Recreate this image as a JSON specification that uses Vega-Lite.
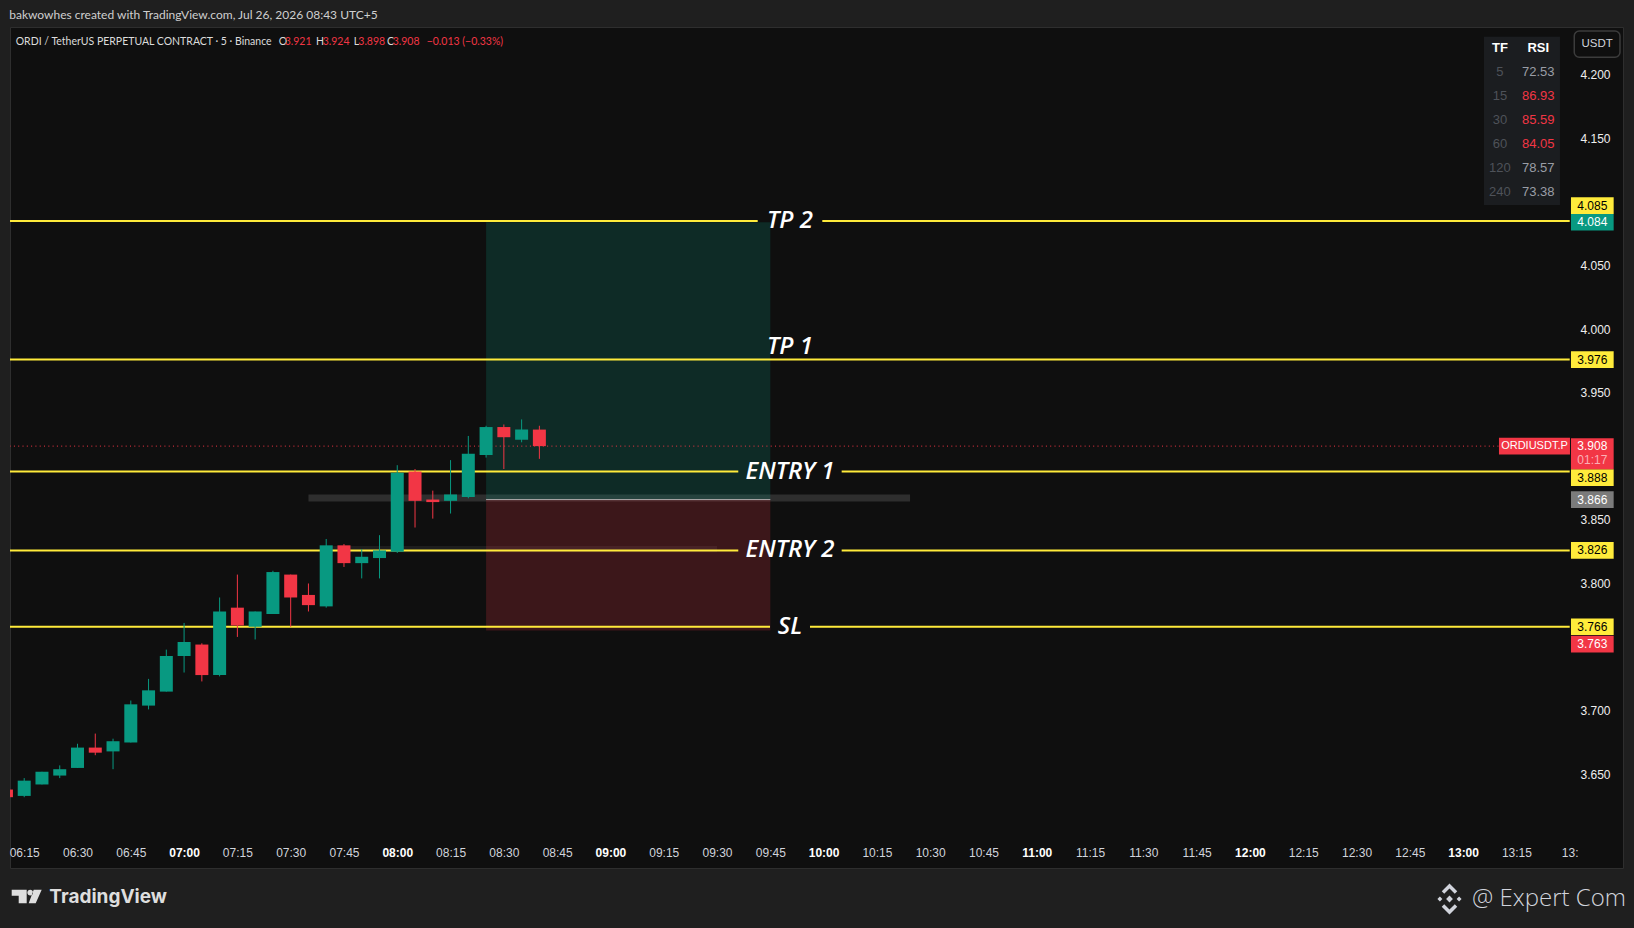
{
  "$schema": "https://vega.github.io/schema/vega-lite/v6.json",
  "width": 1613,
  "height": 841,
  "autosize": "none",
  "padding": {"left": 10, "top": 27, "right": 11, "bottom": 60},
  "background": "#1f1f1f",
  "config": {
    "font": "Liberation Sans",
    "view": {"fill": "#0f0f0f", "stroke": "#2e2e2e", "strokeWidth": 1}
  },
  "title": {
    "text": "bakwowhes created with TradingView.com, Jul 26, 2026 08:43 UTC+5",
    "anchor": "start",
    "offset": -4,
    "baseline": "alphabetic",
    "font": "Lato",
    "fontSize": 12,
    "fontWeight": "normal",
    "color": "#cfcfcf"
  },
  "datasets": {
    "candles": [
      {"t": "2026-07-26T06:10:00Z", "o": 3.638, "h": 3.639, "l": 3.630, "c": 3.632},
      {"t": "2026-07-26T06:15:00Z", "o": 3.633, "h": 3.647, "l": 3.632, "c": 3.645},
      {"t": "2026-07-26T06:20:00Z", "o": 3.642, "h": 3.652, "l": 3.642, "c": 3.652},
      {"t": "2026-07-26T06:25:00Z", "o": 3.649, "h": 3.657, "l": 3.647, "c": 3.654},
      {"t": "2026-07-26T06:30:00Z", "o": 3.655, "h": 3.674, "l": 3.655, "c": 3.671},
      {"t": "2026-07-26T06:35:00Z", "o": 3.671, "h": 3.682, "l": 3.665, "c": 3.667},
      {"t": "2026-07-26T06:40:00Z", "o": 3.668, "h": 3.678, "l": 3.654, "c": 3.676},
      {"t": "2026-07-26T06:45:00Z", "o": 3.675, "h": 3.708, "l": 3.675, "c": 3.705},
      {"t": "2026-07-26T06:50:00Z", "o": 3.704, "h": 3.725, "l": 3.701, "c": 3.716},
      {"t": "2026-07-26T06:55:00Z", "o": 3.715, "h": 3.748, "l": 3.715, "c": 3.743},
      {"t": "2026-07-26T07:00:00Z", "o": 3.743, "h": 3.769, "l": 3.730, "c": 3.754},
      {"t": "2026-07-26T07:05:00Z", "o": 3.752, "h": 3.753, "l": 3.723, "c": 3.728},
      {"t": "2026-07-26T07:10:00Z", "o": 3.728, "h": 3.789, "l": 3.727, "c": 3.778},
      {"t": "2026-07-26T07:15:00Z", "o": 3.781, "h": 3.807, "l": 3.758, "c": 3.767},
      {"t": "2026-07-26T07:20:00Z", "o": 3.766, "h": 3.778, "l": 3.756, "c": 3.778},
      {"t": "2026-07-26T07:25:00Z", "o": 3.776, "h": 3.810, "l": 3.776, "c": 3.809},
      {"t": "2026-07-26T07:30:00Z", "o": 3.807, "h": 3.807, "l": 3.766, "c": 3.789},
      {"t": "2026-07-26T07:35:00Z", "o": 3.791, "h": 3.800, "l": 3.778, "c": 3.783},
      {"t": "2026-07-26T07:40:00Z", "o": 3.782, "h": 3.835, "l": 3.781, "c": 3.830},
      {"t": "2026-07-26T07:45:00Z", "o": 3.830, "h": 3.831, "l": 3.813, "c": 3.816},
      {"t": "2026-07-26T07:50:00Z", "o": 3.816, "h": 3.827, "l": 3.804, "c": 3.821},
      {"t": "2026-07-26T07:55:00Z", "o": 3.820, "h": 3.838, "l": 3.804, "c": 3.826},
      {"t": "2026-07-26T08:00:00Z", "o": 3.825, "h": 3.893, "l": 3.824, "c": 3.887},
      {"t": "2026-07-26T08:05:00Z", "o": 3.888, "h": 3.890, "l": 3.844, "c": 3.865},
      {"t": "2026-07-26T08:10:00Z", "o": 3.866, "h": 3.873, "l": 3.851, "c": 3.864},
      {"t": "2026-07-26T08:15:00Z", "o": 3.865, "h": 3.897, "l": 3.855, "c": 3.870},
      {"t": "2026-07-26T08:20:00Z", "o": 3.868, "h": 3.916, "l": 3.867, "c": 3.902},
      {"t": "2026-07-26T08:25:00Z", "o": 3.901, "h": 3.924, "l": 3.899, "c": 3.923},
      {"t": "2026-07-26T08:30:00Z", "o": 3.923, "h": 3.925, "l": 3.890, "c": 3.915},
      {"t": "2026-07-26T08:35:00Z", "o": 3.913, "h": 3.929, "l": 3.911, "c": 3.921},
      {"t": "2026-07-26T08:40:00Z", "o": 3.921, "h": 3.924, "l": 3.898, "c": 3.908}
    ],
    "position": [
      {"from": "2026-07-26T08:25:00Z", "to": "2026-07-26T09:45:00Z", "entry": 3.866, "target": 4.084, "stop": 3.763}
    ],
    "bands": [
      {"from": "2026-07-26T07:35:00Z", "to": "2026-07-26T10:24:20Z", "lo": 3.8645, "hi": 3.8700, "strength": "strong"},
      {"from": "2026-07-26T07:40:00Z", "to": "2026-07-26T09:30:00Z", "lo": 3.8245, "hi": 3.8295, "strength": "weak"}
    ],
    "segments": [
      {"level": "TP 2", "price": 4.085, "from": "2026-07-26T06:00:00Z", "to": "2026-07-26T09:41:27Z"},
      {"level": "TP 2", "price": 4.085, "from": "2026-07-26T09:59:38Z", "to": "2026-07-26T13:30:00Z"},
      {"level": "TP 1", "price": 3.976, "from": "2026-07-26T06:00:00Z", "to": "2026-07-26T13:30:00Z"},
      {"level": "ENTRY 1", "price": 3.888, "from": "2026-07-26T06:00:00Z", "to": "2026-07-26T09:35:59Z"},
      {"level": "ENTRY 1", "price": 3.888, "from": "2026-07-26T10:05:05Z", "to": "2026-07-26T13:30:00Z"},
      {"level": "ENTRY 2", "price": 3.826, "from": "2026-07-26T06:00:00Z", "to": "2026-07-26T09:35:59Z"},
      {"level": "ENTRY 2", "price": 3.826, "from": "2026-07-26T10:05:05Z", "to": "2026-07-26T13:30:00Z"},
      {"level": "SL", "price": 3.766, "from": "2026-07-26T06:00:00Z", "to": "2026-07-26T09:44:55Z"},
      {"level": "SL", "price": 3.766, "from": "2026-07-26T09:56:10Z", "to": "2026-07-26T13:30:00Z"}
    ],
    "levels": [
      {"level": "TP 2", "price": 4.085, "place": "on"},
      {"level": "TP 1", "price": 3.976, "place": "above"},
      {"level": "ENTRY 1", "price": 3.888, "place": "on"},
      {"level": "ENTRY 2", "price": 3.826, "place": "on"},
      {"level": "SL", "price": 3.766, "place": "on"}
    ],
    "tags": [
      {"price": 4.085, "text": "4.085", "kind": "level"},
      {"price": 4.084, "text": "4.084", "kind": "target"},
      {"price": 3.976, "text": "3.976", "kind": "level"},
      {"price": 3.888, "text": "3.888", "kind": "level"},
      {"price": 3.866, "text": "3.866", "kind": "entry"},
      {"price": 3.826, "text": "3.826", "kind": "level"},
      {"price": 3.766, "text": "3.766", "kind": "level"},
      {"price": 3.763, "text": "3.763", "kind": "stop"}
    ],
    "last": [
      {"symbol": "ORDIUSDT.P", "price": 3.908, "timer": "01:17"}
    ],
    "rsi": [
      {"tf": "5", "rsi": "72.53", "tone": "calm"},
      {"tf": "15", "rsi": "86.93", "tone": "hot"},
      {"tf": "30", "rsi": "85.59", "tone": "hot"},
      {"tf": "60", "rsi": "84.05", "tone": "hot"},
      {"tf": "120", "rsi": "78.57", "tone": "calm"},
      {"tf": "240", "rsi": "73.38", "tone": "calm"}
    ]
  },
  "layer": [
    {
      "data": {"values": [{}]},
      "mark": {"type": "rect", "color": "#1b1d20"},
      "encoding": {
        "x": {"datum": 1785071152000, "type": "temporal"},
        "x2": {"datum": 1785072436000},
        "y": {"datum": 4.22987, "type": "quantitative"},
        "y2": {"datum": 4.09756}
      }
    },
    {
      "data": {"name": "bands"},
      "mark": {"type": "rect", "color": "#8a8a8a", "clip": true},
      "encoding": {
        "x": {"field": "from", "type": "temporal"},
        "x2": {"field": "to"},
        "y": {"field": "lo", "type": "quantitative"},
        "y2": {"field": "hi"},
        "opacity": {"condition": {"test": "datum.strength == 'strong'", "value": 0.25}, "value": 0.12}
      }
    },
    {
      "data": {"name": "position"},
      "mark": {"type": "rect", "color": "#089981", "opacity": 0.2, "clip": true},
      "encoding": {
        "x": {"field": "from", "type": "temporal"},
        "x2": {"field": "to"},
        "y": {"field": "entry", "type": "quantitative"},
        "y2": {"field": "target"}
      }
    },
    {
      "data": {"name": "position"},
      "mark": {"type": "rect", "color": "#f23645", "opacity": 0.2, "clip": true},
      "encoding": {
        "x": {"field": "from", "type": "temporal"},
        "x2": {"field": "to"},
        "y": {"field": "stop", "type": "quantitative"},
        "y2": {"field": "entry"}
      }
    },
    {
      "data": {"name": "position"},
      "mark": {"type": "rule", "color": "#a8a8a8", "strokeWidth": 1},
      "encoding": {
        "x": {"field": "from", "type": "temporal"},
        "x2": {"field": "to"},
        "y": {"field": "entry", "type": "quantitative"}
      }
    },
    {
      "data": {"name": "segments"},
      "mark": {"type": "rule", "color": "#ffeb3b", "strokeWidth": 2, "clip": true},
      "encoding": {
        "x": {"field": "from", "type": "temporal"},
        "x2": {"field": "to"},
        "y": {"field": "price", "type": "quantitative"}
      }
    },
    {
      "data": {"name": "last"},
      "mark": {"type": "rule", "color": "#f23645", "strokeWidth": 1, "strokeDash": [1, 3.3], "clip": true},
      "encoding": {
        "x": {"datum": 1785045600000, "type": "temporal"},
        "x2": {"datum": 1785071405000},
        "y": {"field": "price", "type": "quantitative"}
      }
    },
    {
      "data": {"name": "candles"},
      "mark": {"type": "rule", "strokeWidth": 1, "clip": true},
      "encoding": {
        "x": {
          "field": "t",
          "type": "temporal",
          "title": null,
          "scale": {"type": "utc", "domain": [1785046260000, 1785073500000], "nice": false, "padding": 0},
          "axis": {
            "orient": "bottom",
            "offset": -29,
            "title": null,
            "domain": false,
            "ticks": false,
            "grid": false,
            "values": [1785046500000, 1785047400000, 1785048300000, 1785049200000, 1785050100000, 1785051000000, 1785051900000, 1785052800000, 1785053700000, 1785054600000, 1785055500000, 1785056400000, 1785057300000, 1785058200000, 1785059100000, 1785060000000, 1785060900000, 1785061800000, 1785062700000, 1785063600000, 1785064500000, 1785065400000, 1785066300000, 1785067200000, 1785068100000, 1785069000000, 1785069900000, 1785070800000, 1785071700000, 1785072600000],
            "format": "%H:%M",
            "labelExpr": "utchours(datum.value) == 13 && utcminutes(datum.value) == 30 ? '13:' : datum.label",
            "labelPadding": 8,
            "labelFontSize": 12,
            "labelFont": "Liberation Sans",
            "labelColor": {"condition": {"test": "utcminutes(datum.value) == 0", "value": "#ffffff"}, "value": "#d1d4dc"},
            "labelFontWeight": {"condition": {"test": "utcminutes(datum.value) == 0", "value": "bold"}, "value": "normal"},
            "labelOverlap": false,
            "labelFlush": false
          }
        },
        "y": {
          "field": "l",
          "type": "quantitative",
          "title": null,
          "scale": {"domain": [3.57633, 4.2375], "nice": false, "zero": false, "padding": 0},
          "axis": {
            "orient": "right",
            "offset": -53,
            "title": null,
            "domain": false,
            "ticks": false,
            "grid": false,
            "values": [3.65, 3.7, 3.8, 3.85, 3.95, 4.0, 4.05, 4.15, 4.2],
            "format": ".3f",
            "labelPadding": 10,
            "labelFontSize": 12,
            "labelFont": "Liberation Sans",
            "labelColor": "#eeeeee",
            "labelOverlap": false,
            "labelFlush": false
          }
        },
        "y2": {"field": "h"},
        "color": {"condition": {"test": "datum.c >= datum.o", "value": "#089981"}, "value": "#f23645"}
      }
    },
    {
      "data": {"name": "candles"},
      "mark": {"type": "bar", "width": 13, "clip": true},
      "encoding": {
        "x": {"field": "t", "type": "temporal"},
        "y": {"field": "o", "type": "quantitative"},
        "y2": {"field": "c"},
        "color": {"condition": {"test": "datum.c >= datum.o", "value": "#089981"}, "value": "#f23645"}
      }
    },
    {
      "data": {"name": "levels"},
      "transform": [{"filter": "datum.place == 'on'"}],
      "mark": {"type": "text", "font": "Open Sans", "fontSize": 24, "fontStyle": "italic", "fontWeight": 600, "color": "#ffffff", "align": "center", "baseline": "middle"},
      "encoding": {
        "x": {"datum": 1785059432000, "type": "temporal"},
        "y": {"field": "price", "type": "quantitative"},
        "text": {"field": "level"}
      }
    },
    {
      "data": {"name": "levels"},
      "transform": [{"filter": "datum.place == 'above'"}],
      "mark": {"type": "text", "font": "Open Sans", "fontSize": 24, "fontStyle": "italic", "fontWeight": 600, "color": "#ffffff", "align": "center", "baseline": "middle", "dy": -13},
      "encoding": {
        "x": {"datum": 1785059432000, "type": "temporal"},
        "y": {"field": "price", "type": "quantitative"},
        "text": {"field": "level"}
      }
    },
    {
      "data": {"name": "tags"},
      "transform": [{"filter": "datum.text != '4.085' && datum.text != '3.888' && datum.text != '3.763'"}],
      "mark": {"type": "point", "shape": "M-1,-0.391L1,-0.391L1,0.391L-1,0.391Z", "size": 1823, "filled": true, "opacity": 1, "strokeWidth": 0},
      "encoding": {
        "x": {"datum": 1785072982000, "type": "temporal"},
        "y": {"field": "price", "type": "quantitative"},
        "color": {"condition": [{"test": "datum.kind == 'level'", "value": "#ffeb3b"}, {"test": "datum.kind == 'target'", "value": "#089981"}, {"test": "datum.kind == 'stop'", "value": "#f23645"}], "value": "#7b7b7b"}
      }
    },
    {
      "data": {"name": "tags"},
      "transform": [{"filter": "datum.text != '4.085' && datum.text != '3.888' && datum.text != '3.763'"}],
      "mark": {"type": "text", "fontSize": 12, "align": "center", "baseline": "middle"},
      "encoding": {
        "x": {"datum": 1785072982000, "type": "temporal"},
        "y": {"field": "price", "type": "quantitative"},
        "text": {"field": "text"},
        "color": {"condition": {"test": "datum.kind == 'level'", "value": "#000000"}, "value": "#ffffff"}
      }
    },
    {
      "data": {"name": "tags"},
      "transform": [{"filter": "datum.text == '4.085'"}],
      "mark": {"type": "point", "shape": "M-1,-0.391L1,-0.391L1,0.391L-1,0.391Z", "size": 1823, "filled": true, "opacity": 1, "strokeWidth": 0, "color": "#ffeb3b", "yOffset": -15.3},
      "encoding": {
        "x": {"datum": 1785072982000, "type": "temporal"},
        "y": {"field": "price", "type": "quantitative"}
      }
    },
    {
      "data": {"name": "tags"},
      "transform": [{"filter": "datum.text == '4.085'"}],
      "mark": {"type": "text", "fontSize": 12, "align": "center", "baseline": "middle", "color": "#000000", "dy": -15.3},
      "encoding": {
        "x": {"datum": 1785072982000, "type": "temporal"},
        "y": {"field": "price", "type": "quantitative"},
        "text": {"field": "text"}
      }
    },
    {
      "data": {"name": "tags"},
      "transform": [{"filter": "datum.text == '3.888'"}],
      "mark": {"type": "point", "shape": "M-1,-0.391L1,-0.391L1,0.391L-1,0.391Z", "size": 1823, "filled": true, "opacity": 1, "strokeWidth": 0, "color": "#ffeb3b", "yOffset": 6},
      "encoding": {
        "x": {"datum": 1785072982000, "type": "temporal"},
        "y": {"field": "price", "type": "quantitative"}
      }
    },
    {
      "data": {"name": "tags"},
      "transform": [{"filter": "datum.text == '3.888'"}],
      "mark": {"type": "text", "fontSize": 12, "align": "center", "baseline": "middle", "color": "#000000", "dy": 6},
      "encoding": {
        "x": {"datum": 1785072982000, "type": "temporal"},
        "y": {"field": "price", "type": "quantitative"},
        "text": {"field": "text"}
      }
    },
    {
      "data": {"name": "tags"},
      "transform": [{"filter": "datum.text == '3.763'"}],
      "mark": {"type": "point", "shape": "M-1,-0.391L1,-0.391L1,0.391L-1,0.391Z", "size": 1823, "filled": true, "opacity": 1, "strokeWidth": 0, "color": "#f23645", "yOffset": 13.5},
      "encoding": {
        "x": {"datum": 1785072982000, "type": "temporal"},
        "y": {"field": "price", "type": "quantitative"}
      }
    },
    {
      "data": {"name": "tags"},
      "transform": [{"filter": "datum.text == '3.763'"}],
      "mark": {"type": "text", "fontSize": 12, "align": "center", "baseline": "middle", "color": "#ffffff", "dy": 13.5},
      "encoding": {
        "x": {"datum": 1785072982000, "type": "temporal"},
        "y": {"field": "price", "type": "quantitative"},
        "text": {"field": "text"}
      }
    },
    {
      "data": {"name": "last"},
      "mark": {"type": "point", "shape": "M-1,-0.726L1,-0.726L1,0.726L-1,0.726Z", "size": 1823, "filled": true, "opacity": 1, "strokeWidth": 0, "color": "#f23645", "yOffset": 7.7},
      "encoding": {
        "x": {"datum": 1785072982000, "type": "temporal"},
        "y": {"field": "price", "type": "quantitative"}
      }
    },
    {
      "data": {"name": "last"},
      "mark": {"type": "text", "fontSize": 12, "align": "center", "baseline": "middle", "color": "#ffffff"},
      "encoding": {
        "x": {"datum": 1785072982000, "type": "temporal"},
        "y": {"field": "price", "type": "quantitative"},
        "text": {"field": "price", "type": "quantitative", "format": ".3f"}
      }
    },
    {
      "data": {"name": "last"},
      "mark": {"type": "text", "fontSize": 12, "align": "center", "baseline": "middle", "color": "#fab0b5", "dy": 14},
      "encoding": {
        "x": {"datum": 1785072982000, "type": "temporal"},
        "y": {"field": "price", "type": "quantitative"},
        "text": {"field": "timer"}
      }
    },
    {
      "data": {"name": "last"},
      "mark": {"type": "point", "shape": "M-1,-0.239L1,-0.239L1,0.239L-1,0.239Z", "size": 5041, "filled": true, "opacity": 1, "strokeWidth": 0, "color": "#f23645"},
      "encoding": {
        "x": {"datum": 1785072005000, "type": "temporal"},
        "y": {"field": "price", "type": "quantitative"}
      }
    },
    {
      "data": {"name": "last"},
      "mark": {"type": "text", "fontSize": 11, "align": "center", "baseline": "middle", "color": "#ffffff"},
      "encoding": {
        "x": {"datum": 1785072005000, "type": "temporal"},
        "y": {"field": "price", "type": "quantitative"},
        "text": {"field": "symbol"}
      }
    },
    {
      "data": {"values": [{}]},
      "mark": {"type": "rect", "fill": "#0f0f0f", "stroke": "#3c3c3c", "strokeWidth": 1.5, "cornerRadius": 5},
      "encoding": {
        "x": {"datum": 1785072677000, "type": "temporal"},
        "x2": {"datum": 1785073449000},
        "y": {"datum": 4.23436, "type": "quantitative"},
        "y2": {"datum": 4.21368}
      }
    },
    {
      "data": {"values": [{}]},
      "mark": {"type": "text", "fontSize": 11.5, "align": "center", "baseline": "middle", "color": "#d1d4dc"},
      "encoding": {
        "x": {"datum": 1785073064000, "type": "temporal"},
        "y": {"datum": 4.22414, "type": "quantitative"},
        "text": {"value": "USDT"}
      }
    },
    {
      "data": {"values": [{}]},
      "encoding": {"y": {"datum": 4.22547, "type": "quantitative"}},
      "layer": [
        {"mark": {"type": "text", "align": "left", "baseline": "middle", "font": "Lato", "fontSize": 10.5, "color": "#dcdcdc"}, "encoding": {"x": {"datum": 1785046356000, "type": "temporal"}, "text": {"value": "ORDI / TetherUS PERPETUAL CONTRACT · 5 · Binance"}}},
        {"mark": {"type": "text", "align": "left", "baseline": "middle", "font": "Lato", "fontSize": 10.5, "color": "#dcdcdc"}, "encoding": {"x": {"datum": 1785050797000, "type": "temporal"}, "text": {"value": "O"}}},
        {"mark": {"type": "text", "align": "left", "baseline": "middle", "font": "Lato", "fontSize": 10.5, "color": "#f23645"}, "encoding": {"x": {"datum": 1785050899000, "type": "temporal"}, "text": {"value": "3.921"}}},
        {"mark": {"type": "text", "align": "left", "baseline": "middle", "font": "Lato", "fontSize": 10.5, "color": "#dcdcdc"}, "encoding": {"x": {"datum": 1785051427000, "type": "temporal"}, "text": {"value": "H"}}},
        {"mark": {"type": "text", "align": "left", "baseline": "middle", "font": "Lato", "fontSize": 10.5, "color": "#f23645"}, "encoding": {"x": {"datum": 1785051541000, "type": "temporal"}, "text": {"value": "3.924"}}},
        {"mark": {"type": "text", "align": "left", "baseline": "middle", "font": "Lato", "fontSize": 10.5, "color": "#dcdcdc"}, "encoding": {"x": {"datum": 1785052064000, "type": "temporal"}, "text": {"value": "L"}}},
        {"mark": {"type": "text", "align": "left", "baseline": "middle", "font": "Lato", "fontSize": 10.5, "color": "#f23645"}, "encoding": {"x": {"datum": 1785052142000, "type": "temporal"}, "text": {"value": "3.898"}}},
        {"mark": {"type": "text", "align": "left", "baseline": "middle", "font": "Lato", "fontSize": 10.5, "color": "#dcdcdc"}, "encoding": {"x": {"datum": 1785052627000, "type": "temporal"}, "text": {"value": "C"}}},
        {"mark": {"type": "text", "align": "left", "baseline": "middle", "font": "Lato", "fontSize": 10.5, "color": "#f23645"}, "encoding": {"x": {"datum": 1785052723000, "type": "temporal"}, "text": {"value": "3.908"}}},
        {"mark": {"type": "text", "align": "left", "baseline": "middle", "font": "Lato", "fontSize": 10.5, "color": "#f23645"}, "encoding": {"x": {"datum": 1785053297000, "type": "temporal"}, "text": {"value": "−0.013 (−0.33%)"}}}
      ]
    },
    {
      "data": {"values": [{}]},
      "encoding": {"y": {"datum": 4.22075, "type": "quantitative"}},
      "layer": [
        {"mark": {"type": "text", "fontSize": 13, "fontWeight": "bold", "align": "center", "baseline": "middle", "color": "#ffffff"}, "encoding": {"x": {"datum": 1785071422000, "type": "temporal"}, "text": {"value": "TF"}}},
        {"mark": {"type": "text", "fontSize": 13, "fontWeight": "bold", "align": "center", "baseline": "middle", "color": "#ffffff"}, "encoding": {"x": {"datum": 1785072069000, "type": "temporal"}, "text": {"value": "RSI"}}}
      ]
    },
    {
      "data": {"name": "rsi"},
      "transform": [{"filter": "datum.tf == '5'"}],
      "encoding": {"y": {"datum": 4.20197, "type": "quantitative"}},
      "layer": [
        {"mark": {"type": "text", "fontSize": 13, "align": "center", "baseline": "middle", "color": "#4e5259"}, "encoding": {"x": {"datum": 1785071422000, "type": "temporal"}, "text": {"field": "tf"}}},
        {"mark": {"type": "text", "fontSize": 13, "align": "center", "baseline": "middle"}, "encoding": {"x": {"datum": 1785072069000, "type": "temporal"}, "text": {"field": "rsi"}, "color": {"condition": {"test": "datum.tone == 'hot'", "value": "#f23645"}, "value": "#9a9da6"}}}
      ]
    },
    {
      "data": {"name": "rsi"},
      "transform": [{"filter": "datum.tf == '15'"}],
      "encoding": {"y": {"datum": 4.18318, "type": "quantitative"}},
      "layer": [
        {"mark": {"type": "text", "fontSize": 13, "align": "center", "baseline": "middle", "color": "#4e5259"}, "encoding": {"x": {"datum": 1785071422000, "type": "temporal"}, "text": {"field": "tf"}}},
        {"mark": {"type": "text", "fontSize": 13, "align": "center", "baseline": "middle"}, "encoding": {"x": {"datum": 1785072069000, "type": "temporal"}, "text": {"field": "rsi"}, "color": {"condition": {"test": "datum.tone == 'hot'", "value": "#f23645"}, "value": "#9a9da6"}}}
      ]
    },
    {
      "data": {"name": "rsi"},
      "transform": [{"filter": "datum.tf == '30'"}],
      "encoding": {"y": {"datum": 4.16439, "type": "quantitative"}},
      "layer": [
        {"mark": {"type": "text", "fontSize": 13, "align": "center", "baseline": "middle", "color": "#4e5259"}, "encoding": {"x": {"datum": 1785071422000, "type": "temporal"}, "text": {"field": "tf"}}},
        {"mark": {"type": "text", "fontSize": 13, "align": "center", "baseline": "middle"}, "encoding": {"x": {"datum": 1785072069000, "type": "temporal"}, "text": {"field": "rsi"}, "color": {"condition": {"test": "datum.tone == 'hot'", "value": "#f23645"}, "value": "#9a9da6"}}}
      ]
    },
    {
      "data": {"name": "rsi"},
      "transform": [{"filter": "datum.tf == '60'"}],
      "encoding": {"y": {"datum": 4.14560, "type": "quantitative"}},
      "layer": [
        {"mark": {"type": "text", "fontSize": 13, "align": "center", "baseline": "middle", "color": "#4e5259"}, "encoding": {"x": {"datum": 1785071422000, "type": "temporal"}, "text": {"field": "tf"}}},
        {"mark": {"type": "text", "fontSize": 13, "align": "center", "baseline": "middle"}, "encoding": {"x": {"datum": 1785072069000, "type": "temporal"}, "text": {"field": "rsi"}, "color": {"condition": {"test": "datum.tone == 'hot'", "value": "#f23645"}, "value": "#9a9da6"}}}
      ]
    },
    {
      "data": {"name": "rsi"},
      "transform": [{"filter": "datum.tf == '120'"}],
      "encoding": {"y": {"datum": 4.12681, "type": "quantitative"}},
      "layer": [
        {"mark": {"type": "text", "fontSize": 13, "align": "center", "baseline": "middle", "color": "#4e5259"}, "encoding": {"x": {"datum": 1785071422000, "type": "temporal"}, "text": {"field": "tf"}}},
        {"mark": {"type": "text", "fontSize": 13, "align": "center", "baseline": "middle"}, "encoding": {"x": {"datum": 1785072069000, "type": "temporal"}, "text": {"field": "rsi"}, "color": {"condition": {"test": "datum.tone == 'hot'", "value": "#f23645"}, "value": "#9a9da6"}}}
      ]
    },
    {
      "data": {"name": "rsi"},
      "transform": [{"filter": "datum.tf == '240'"}],
      "encoding": {"y": {"datum": 4.10802, "type": "quantitative"}},
      "layer": [
        {"mark": {"type": "text", "fontSize": 13, "align": "center", "baseline": "middle", "color": "#4e5259"}, "encoding": {"x": {"datum": 1785071422000, "type": "temporal"}, "text": {"field": "tf"}}},
        {"mark": {"type": "text", "fontSize": 13, "align": "center", "baseline": "middle"}, "encoding": {"x": {"datum": 1785072069000, "type": "temporal"}, "text": {"field": "rsi"}, "color": {"condition": {"test": "datum.tone == 'hot'", "value": "#f23645"}, "value": "#9a9da6"}}}
      ]
    },
    {
      "data": {"values": [{}]},
      "mark": {"type": "point", "shape": "M-1,-0.457L0,-0.457L0,0.457L-0.533,0.457L-0.533,-0.057L-1,-0.057Z M0.043,-0.257A0.19,0.19 0 1,0 0.423,-0.257A0.19,0.19 0 1,0 0.043,-0.257Z M0.467,-0.457L1,-0.457L0.6,0.457L0.133,0.457Z", "size": 900, "filled": true, "opacity": 1, "strokeWidth": 0, "color": "#dedede"},
      "encoding": {
        "x": {"datum": 1785046542000, "type": "temporal"},
        "y": {"datum": 3.55393, "type": "quantitative"}
      }
    },
    {
      "data": {"values": [{}]},
      "mark": {"type": "text", "align": "left", "baseline": "middle", "font": "Inter", "fontWeight": "bold", "fontSize": 19, "color": "#dedede"},
      "encoding": {
        "x": {"datum": 1785046924000, "type": "temporal"},
        "y": {"datum": 3.55354, "type": "quantitative"},
        "text": {"value": "TradingView"}
      }
    },
    {
      "data": {"values": [{}]},
      "mark": {"type": "point", "shape": "M0,-0.22L0.22,0L0,0.22L-0.22,0Z M-0.62,-0.16L-0.46,0L-0.62,0.16L-0.78,0Z M0.62,-0.16L0.78,0L0.62,0.16L0.46,0Z M0,-1L0.5,-0.5L0.34,-0.34L0,-0.68L-0.34,-0.34L-0.5,-0.5Z M0,1L0.5,0.5L0.34,0.34L0,0.68L-0.34,0.34L-0.5,0.5Z", "size": 961, "filled": true, "opacity": 1, "strokeWidth": 0, "color": "#d1d4dc"},
      "encoding": {
        "x": {"datum": 1785070570000, "type": "temporal"},
        "y": {"datum": 3.55197, "type": "quantitative"}
      }
    },
    {
      "data": {"values": [{}]},
      "mark": {"type": "text", "align": "right", "baseline": "middle", "font": "Open Sans", "fontWeight": 300, "fontSize": 24, "color": "#d1d4dc"},
      "encoding": {
        "x": {"datum": 1785073550000, "type": "temporal"},
        "y": {"datum": 3.5520, "type": "quantitative"},
        "text": {"value": "@ Expert Com"}
      }
    }
  ]
}
